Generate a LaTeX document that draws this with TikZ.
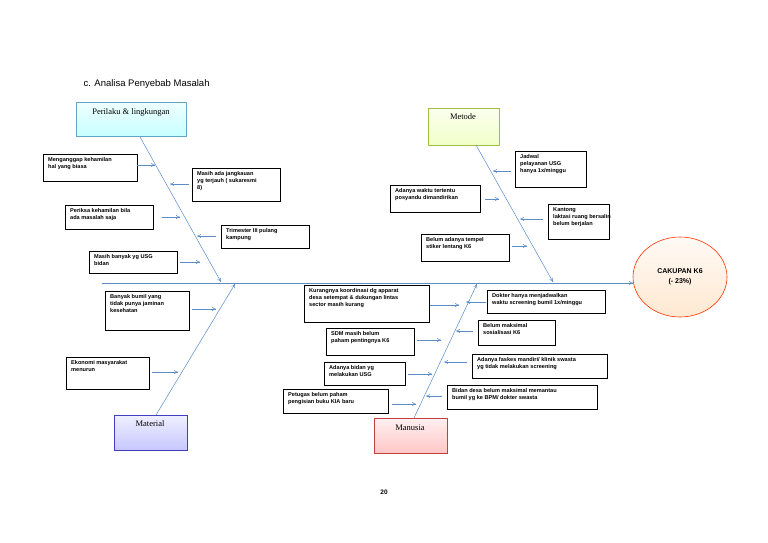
\documentclass[tikz,border=0pt]{standalone}
\usetikzlibrary{arrows.meta,shapes.geometric}
\usepackage{fontspec}
\setmainfont{Liberation Sans}
\newfontfamily\serif{Liberation Serif}
\definecolor{bonec}{RGB}{90,140,200}
\begin{document}
\begin{tikzpicture}[x=1pt,y=-1pt,
 bone/.style={draw=bonec,line width=0.5pt},
 arr/.style={bone,-{To[length=4pt,width=4pt]}},
 cb/.style={draw=black,line width=0.7pt,fill=white},
 cat/.style={draw=#1!50!gray,line width=0.6pt,top color=#1!6,bottom color=#1!22},
 t/.style={font=\fontsize{5.6}{7.2}\selectfont\bfseries,align=left,anchor=north west,inner sep=0pt}]
\useasboundingbox (0,0) rectangle (768,543);
\node[anchor=west,font=\fontsize{9.5}{12}\selectfont] (title) at (80,84) {c. Analisa Penyebab Masalah};
% spine
\coordinate (s0) at (102,283); \coordinate (head) at (633,283);
\draw[arr] (s0) -- (head);
\node[ellipse,draw=red!60!orange,line width=0.6pt,top color=orange!4,bottom color=orange!18,minimum width=94pt,minimum height=80pt,font=\fontsize{7}{10}\selectfont\bfseries,align=center,inner sep=0pt] (ef) at (680,277) {CAKUPAN K6\\(- 23\%)};
% category boxes
\path[cat=cyan] (76,102) rectangle (186,136); \node[font=\serif\fontsize{8.5}{9}\selectfont] (pl) at (131,112) {Perilaku \& lingkungan};
\path[cat=lime] (428,108) rectangle (499,145); \node[font=\serif\fontsize{8.5}{9}\selectfont] (me) at (463,117) {Metode};
\path[cat=blue] (114,415) rectangle (187,450); \node[font=\serif\fontsize{8.5}{9}\selectfont] (ma) at (150,424) {Material};
\path[cat=red] (374,418) rectangle (447,453); \node[font=\serif\fontsize{8.5}{9}\selectfont] (mn) at (410,428) {Manusia};
% bones
\coordinate (b1a) at (140,137); \coordinate (b1b) at (221,282);
\coordinate (b2a) at (476,145); \coordinate (b2b) at (553,282);
\coordinate (b3a) at (156,415); \coordinate (b3b) at (235,284);
\coordinate (b4a) at (414,418); \coordinate (b4b) at (477,284);
\draw[arr] (b1a) -- (b1b);
\draw[arr] (b2a) -- (b2b);
\draw[arr] (b3a) -- (b3b);
\draw[arr] (b4a) -- (b4b);
% cause boxes: rect, text, arrow
\newcommand\cause[8]{\path[cb] (#1,#2) rectangle (#3,#4); \node[t] at (#1+5,#2+3) {#5};
 \coordinate (#6a) at (#7); \coordinate (#6b) at (#8); \draw[arr] (#6a) -- (#6b);}
\cause{43}{154}{137}{181}{Menganggap kehamilan\\hal yang biasa}{c1}{137,165}{155,165}
\cause{192}{168}{280}{201}{Masih ada jangkauan\\yg  terjauh ( sukaresmi\\8)}{c2}{189,184}{170,184}
\cause{65}{205}{153}{229}{Periksa kehamilan bila\\ada masalah saja}{c3}{162,217}{180,217}
\cause{221}{225}{309}{248}{Trimester III pulang\\kampung}{c4}{216,236}{197,236}
\cause{89}{251}{177}{273}{Masih banyak yg USG\\bidan}{c5}{180,262}{200,262}
\cause{515}{151}{586}{187}{Jadwal\\pelayanan USG\\hanya 1x/minggu}{c6}{511,171}{493,171}
\cause{390}{185}{480}{212}{Adanya waktu tertentu\\posyandu dimandirikan}{c7}{485,199}{499,199}
\cause{548}{204}{609}{239}{Kantong\\laktasi ruang bersalin\\belum berjalan}{c8}{543,219}{520,219}
\cause{421}{234}{509}{261}{Belum adanya tempel\\stiker lentang K6}{c9}{512,246}{527,246}
\cause{105}{291}{189}{330}{Banyak bumil yang\\tidak punya jaminan\\kesehatan}{c10}{192,309}{216,309}
\cause{66}{357}{149}{389}{Ekonomi masyarakat\\menurun}{c11}{152,372}{178,372}
\cause{304}{285}{429}{322}{Kurangnya koordinasi dg apparat\\desa setempat \& dukungan lintas\\sector masih kurang}{c12}{430,305}{459,305}
\cause{487}{290}{605}{313}{Dokter hanya menjadwalkan\\waktu screening bumil  1x/minggu}{c13}{486,302}{466,302}
\cause{326}{328}{414}{355}{SDM masih belum\\paham pentingnya K6}{c14}{417,340}{441,340}
\cause{478}{320}{555}{345}{Belum maksimal\\sosialisasi K6}{c15}{473,331}{456,331}
\cause{324}{362}{405}{385}{Adanya bidan yg\\melakukan USG}{c16}{408,374}{432,374}
\cause{472}{354}{607}{378}{Adanya faskes mandiri/ klinik swasta\\yg  tidak melakukan screening}{c17}{467,362}{444,362}
\cause{283}{389}{388}{413}{Petugas belum paham\\pengisian buku KIA baru}{c18}{392,404}{416,404}
\cause{447}{385}{597}{409}{Bidan desa belum maksimal memantau\\bumil yg ke BPM/ dokter swasta}{c19}{442,396}{426,396}
\node[font=\fontsize{6.5}{8}\selectfont\bfseries] (pg) at (384,492) {20};
\end{tikzpicture}
\end{document}
